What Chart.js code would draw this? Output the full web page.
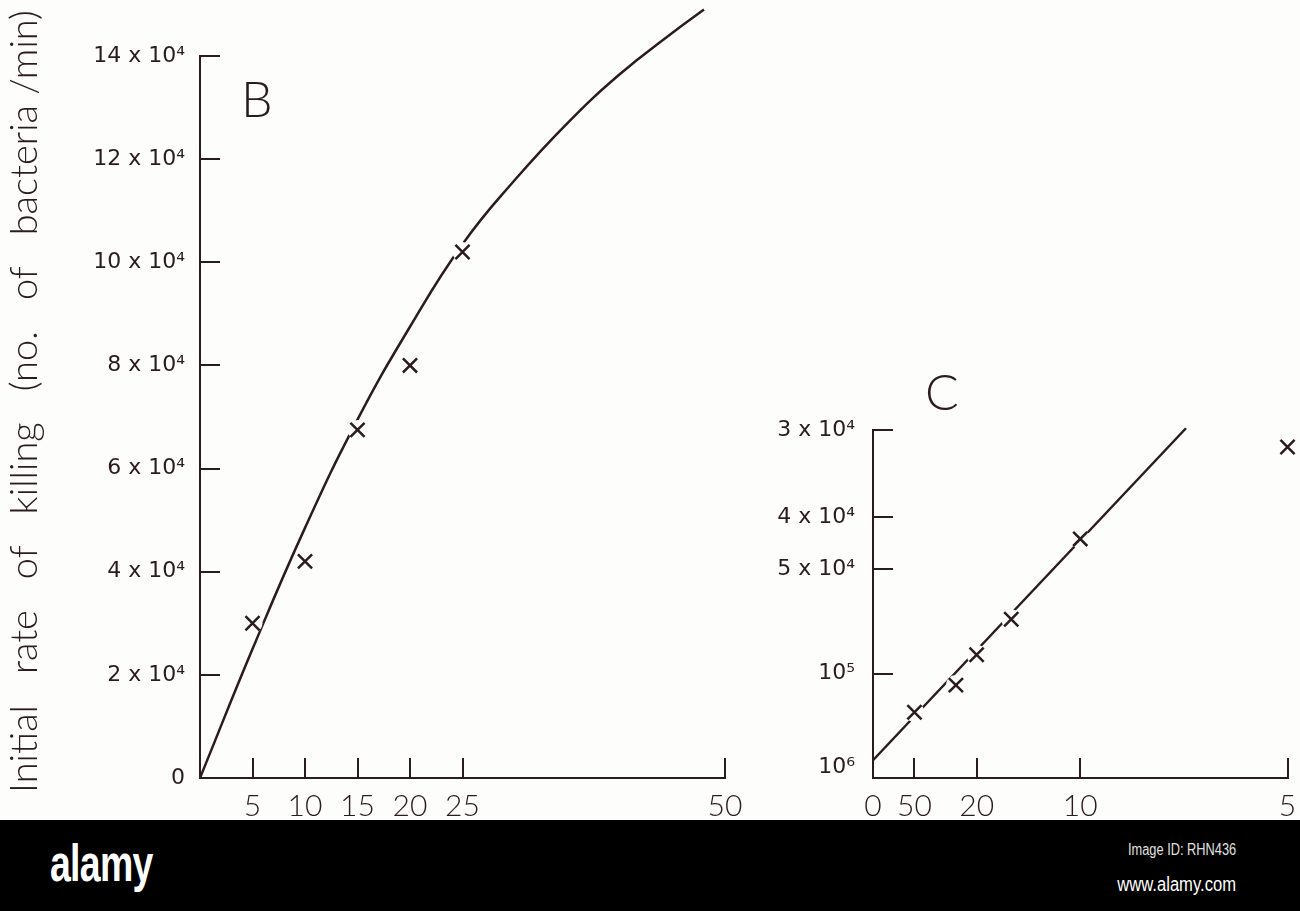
<!DOCTYPE html>
<html>
<head>
<meta charset="utf-8">
<script src="https://cdn.jsdelivr.net/npm/chart.js@4.4.1/dist/chart.umd.min.js"></script>
<style>
  html, body { margin: 0; padding: 0; }
  body { width: 1300px; height: 911px; position: relative; background: #fdfdfb; overflow: hidden; }
  canvas { position: absolute; }
  #chartB { left: 0; top: 0; }
  #chartC { left: 760px; top: 370px; }
  .panel { position: absolute; font-family: Lato, 'Open Sans', sans-serif; font-weight: 300; font-size: 50px; color: #2a1c1c; line-height: 1; }
  #footer { position: absolute; left: 0; top: 820px; width: 1300px; height: 91px; background: #000; }
  #footer div { position: absolute; white-space: nowrap; font-family: 'Liberation Sans', sans-serif; }
  #footer .logo { left: 50px; top: 13px; color: #fff; font-weight: bold; font-size: 52px; letter-spacing: -1px; transform: scaleX(0.72); transform-origin: left top; }
  #footer .id { right: 64px; top: 21px; color: #e0e0e0; font-size: 16px; transform: scaleX(0.8); transform-origin: right top; }
  #footer .www { right: 64px; top: 53px; color: #fff; font-size: 20px; transform: scaleX(0.83); transform-origin: right top; }
</style>
</head>
<body>
<canvas id="chartB" width="760" height="820"></canvas>
<canvas id="chartC" width="540" height="450"></canvas>
<div class="panel" style="left:241px; top:73px;">B</div>
<div class="panel" style="left:925px; top:366px;">C</div>
<div id="footer">
  <div class="logo">alamy</div>
  <div class="id">Image ID: RHN436</div>
  <div class="www">www.alamy.com</div>
</div>
<script>
// Panel B: initial rate of killing (x10^4 bacteria/min) vs concentration
const bConc = [5, 10, 15, 20, 25, 50];
const bRate = [3.0, 4.2, 6.75, 8.0, 10.2, 14.9];
// fitted curve as drawn in the figure
const bCurveX = [0, 5, 10, 15, 20, 25, 30, 35, 40, 45, 48];
const bCurveY = [0, 2.5, 4.85, 6.95, 8.75, 10.35, 11.6, 12.7, 13.65, 14.45, 14.9];
const bXTicks = [5, 10, 15, 20, 25, 50];
const bYTicks = [0, 2, 4, 6, 8, 10, 12, 14];
const bYLabels = ['0', '2 x 10⁴', '4 x 10⁴', '6 x 10⁴', '8 x 10⁴', '10 x 10⁴', '12 x 10⁴', '14 x 10⁴'];

// Panel C: reciprocal plot, 1/rate (x10^-5) vs 1/concentration
const cInvConc = [0.02, 0.04, 0.05, 0.0667, 0.1, 0.2];
const cInvRate = [0.63, 0.89, 1.18, 1.52, 2.29, 3.17];
const cLineX = [0, 0.151];
const cLineY = [0.17, 3.35];
const cXTicks = [0, 0.02, 0.05, 0.1, 0.2];
const cXLabels = ['0', '50', '20', '10', '5'];
const cYTicks = [0.1, 1, 2, 2.5, 3.3333];
const cYLabels = ['10⁶', '10⁵', '5 x 10⁴', '4 x 10⁴', '3 x 10⁴'];

const ink = '#2a1c1c';
const paper = '#fdfdfb';
const family = "Lato, 'Open Sans', sans-serif";
const tickFamily = "'DejaVu Sans', sans-serif";

function pairs(xs, ys) {
    return xs.map((x, i) => ({ x: x, y: ys[i] }));
}

function fixedTicks(values) {
    return scale => { scale.ticks = values.map(v => ({ value: v })); };
}

// the label overhang padding is dropped so the layout padding alone places the plot
function fitWidth(w) {
    return s => { s.width = w; s.paddingTop = 0; s.paddingBottom = 0; };
}
function fitHeight(h) {
    return s => { s.height = h; s.paddingLeft = 0; s.paddingRight = 0; };
}

function axis(opts) {
    return {
        type: 'linear',
        min: opts.min,
        max: opts.max,
        afterBuildTicks: fixedTicks(opts.ticks),
        afterFit: opts.fit,
        grid: {
            drawOnChartArea: false,
            tickLength: -20,
            color: ctx => (opts.hide && opts.hide.includes(ctx.tick.value)) ? 'rgba(0,0,0,0)' : ink,
            lineWidth: 2
        },
        border: { color: ink, width: 2 },
        ticks: {
            autoSkip: false,
            maxRotation: 0,
            padding: opts.padding,
            color: ink,
            font: { family: opts.family, size: opts.size, weight: opts.weight || 300 },
            callback: (v, i) => opts.labels[i]
        },
        title: opts.title || { display: false }
    };
}

// line at the back, a paper-coloured halo that breaks it, the x marks on top
function series(lineData, pointData, tension) {
    return [{
        data: pointData,
        pointStyle: 'crossRot',
        pointRadius: 10,
        pointBorderColor: ink,
        pointBorderWidth: 2.5,
        clip: false,
        order: 0
    }, {
        data: pointData,
        pointStyle: 'circle',
        pointRadius: 10,
        pointBorderWidth: 0,
        pointBackgroundColor: paper,
        pointBorderColor: paper,
        clip: false,
        order: 1
    }, {
        data: lineData,
        showLine: true,
        pointRadius: 0,
        borderColor: ink,
        borderWidth: 2.5,
        tension: tension,
        clip: false,
        order: 2
    }];
}

Chart.defaults.events = [];
Chart.defaults.animation = false;

new Chart(document.getElementById('chartB'), {
    type: 'scatter',
    data: { datasets: series(pairs(bCurveX, bCurveY), pairs(bConc, bRate), 0.45) },
    options: {
        responsive: false,
        layout: { padding: { top: 56, right: 35, left: 0, bottom: 0 } },
        plugins: { legend: { display: false }, tooltip: { enabled: false } },
        scales: {
            x: axis({ min: 0, max: 50, ticks: bXTicks, labels: bXTicks.map(String), padding: 30, size: 30,
                      family: family, fit: fitHeight(42) }),
            y: axis({ min: 0, max: 14, ticks: bYTicks, labels: bYLabels, padding: 35, size: 22,
                      family: tickFamily, weight: 400, fit: fitWidth(200),
                      title: { display: true, text: '   Initial   rate   of   killing   (no.   of   bacteria /min)', color: ink,
                               padding: { top: 2, bottom: 0 }, font: { family: family, size: 38, weight: 300 } } })
        }
    }
});

new Chart(document.getElementById('chartC'), {
    type: 'scatter',
    data: { datasets: series(pairs(cLineX, cLineY), pairs(cInvConc, cInvRate), 0) },
    options: {
        responsive: false,
        layout: { padding: { top: 60, right: 9, left: 0, bottom: 0 } },
        plugins: { legend: { display: false }, tooltip: { enabled: false } },
        scales: {
            x: axis({ min: 0, max: 0.2, ticks: cXTicks, labels: cXLabels, padding: 30, size: 30,
                      family: family, fit: fitHeight(42), hide: [0] }),
            y: axis({ min: 0, max: 3.3333, ticks: cYTicks, labels: cYLabels, padding: 38, size: 22,
                      family: tickFamily, weight: 400, fit: fitWidth(113), hide: [0.1] })
        }
    }
});
</script>
</body>
</html>
